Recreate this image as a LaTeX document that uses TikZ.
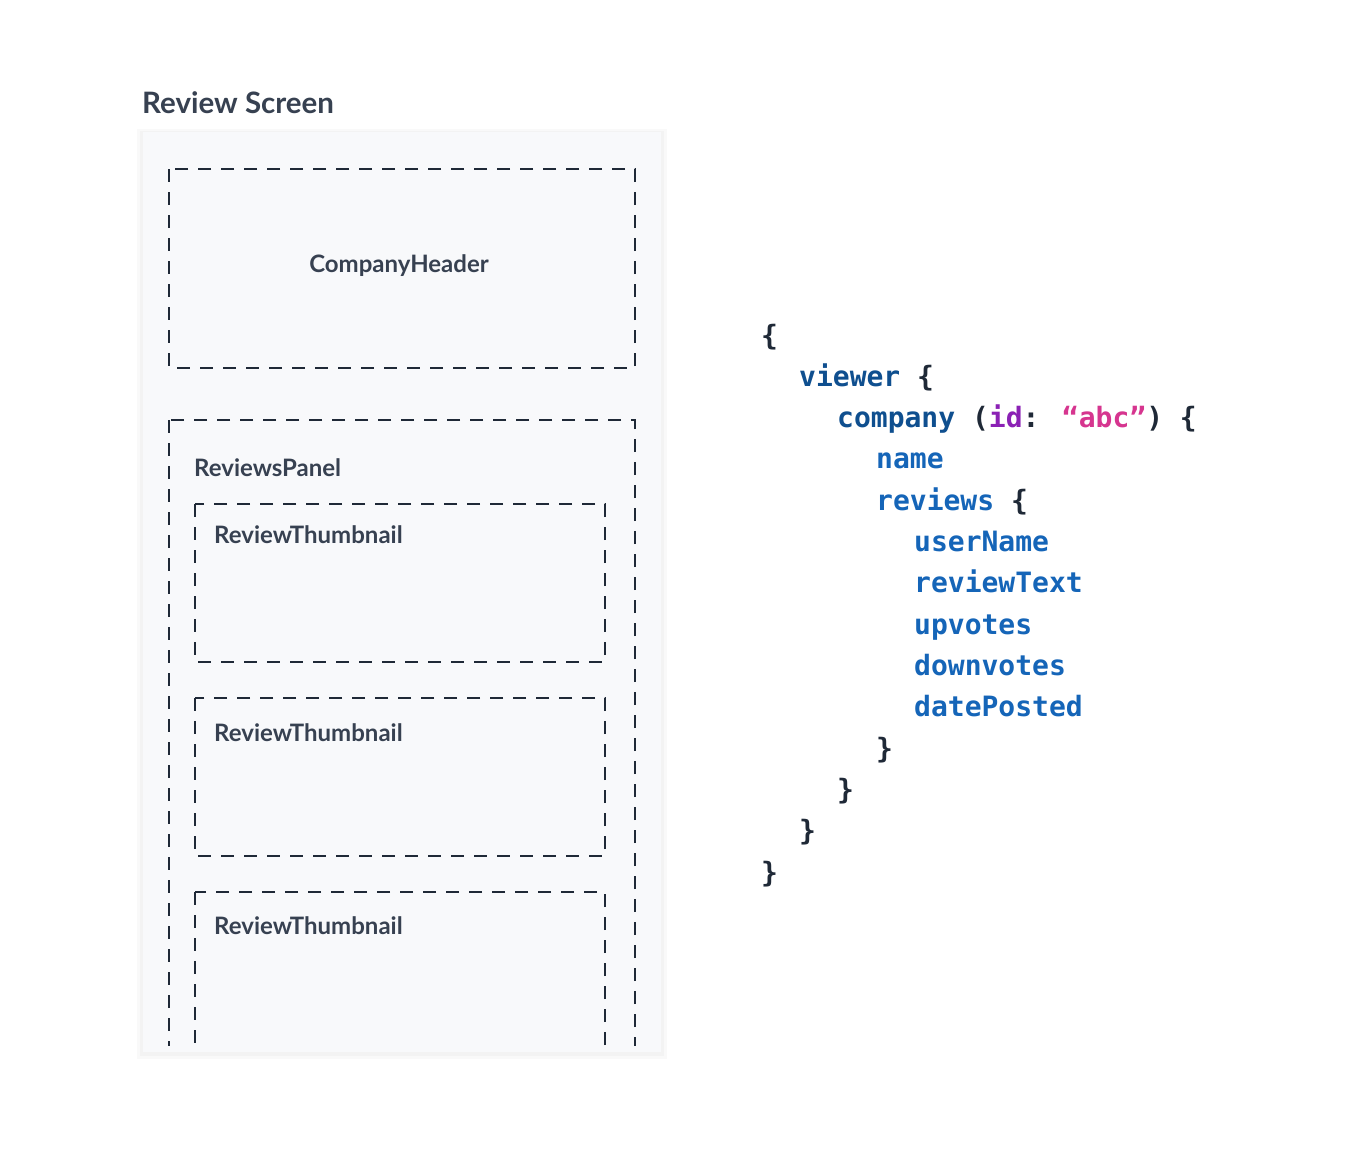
\documentclass[tikz,border=0pt]{standalone}
\usepackage{fontspec}
\setmainfont{Lato}
\newfontfamily\codefont{DejaVu Sans Mono}
\definecolor{txt}{HTML}{374151}
\definecolor{panel}{HTML}{F8F9FB}
\definecolor{dk}{HTML}{1F2937}
\definecolor{kwA}{HTML}{0F4F8F}
\definecolor{kwB}{HTML}{1565B8}
\definecolor{purp}{HTML}{8B21B5}
\definecolor{pink}{HTML}{D6358F}
\tikzset{
 dbox/.style={draw=dk, line width=1.2pt, dash pattern=on 13pt off 10pt},
 lbl/.style={font=\fontsize{24}{28}\selectfont\bfseries, text=txt, inner sep=0},
 code/.style={font=\codefont\bfseries\fontsize{28}{34}\selectfont, anchor=base west, inner sep=0},
}
\begin{document}
\begin{tikzpicture}[x=1pt,y=-1pt]
\useasboundingbox[fill=white] (0,0) rectangle (1358,1160);
\node[lbl, font=\fontsize{29.5}{34}\selectfont\bfseries, anchor=west] (title) at (142,103) {Review Screen};
\fill[black, opacity=0.025] (137,129) rectangle (667,1059);
\fill[black, opacity=0.025] (140,131) rectangle (664,1056);
\fill[panel] (143,132) rectangle (661,1052);
\node[lbl] (ch) at (399,266) {CompanyHeader};
\draw[dbox] (169,169) rectangle (635,368);
\begin{scope}
\clip (143,132) rectangle (661,1045);
\draw[dbox] (169,420) rectangle (635,1100);
\draw[dbox] (195,504) rectangle (605,662);
\draw[dbox] (195,698) rectangle (605,856);
\draw[dbox] (195,892) rectangle (605,1120);
\end{scope}
\node[lbl, anchor=west] (rp) at (194,468) {ReviewsPanel};
\node[lbl, anchor=west] (rt1) at (214,535) {ReviewThumbnail};
\node[lbl, anchor=west] (rt2) at (214,733) {ReviewThumbnail};
\node[lbl, anchor=west] (rt3) at (214,926) {ReviewThumbnail};
\node[code, text=dk] (c1) at (761,345) {\{};
\node[code] (c2) at (799,386) {\textcolor{kwA}{viewer} \textcolor{dk}{\{}};
\node[code] (c3) at (837,427) {\textcolor{kwA}{company} \textcolor{dk}{(}\textcolor{purp}{id}\textcolor{dk}{:} \textcolor{pink}{“abc”}\textcolor{dk}{) \{}};
\node[code, text=kwB] (c4) at (876,468) {name};
\node[code] (c5) at (876,510) {\textcolor{kwB}{reviews} \textcolor{dk}{\{}};
\node[code, text=kwB] (c6) at (914,551) {userName};
\node[code, text=kwB] (c7) at (914,592) {reviewText};
\node[code, text=kwB] (c8) at (914,634) {upvotes};
\node[code, text=kwB] (c9) at (914,675) {downvotes};
\node[code, text=kwB] (c10) at (914,716) {datePosted};
\node[code, text=dk] (c11) at (876,758) {\}};
\node[code, text=dk] (c12) at (837,799) {\}};
\node[code, text=dk] (c13) at (799,840) {\}};
\node[code, text=dk] (c14) at (761,882) {\}};
\end{tikzpicture}
\end{document}
